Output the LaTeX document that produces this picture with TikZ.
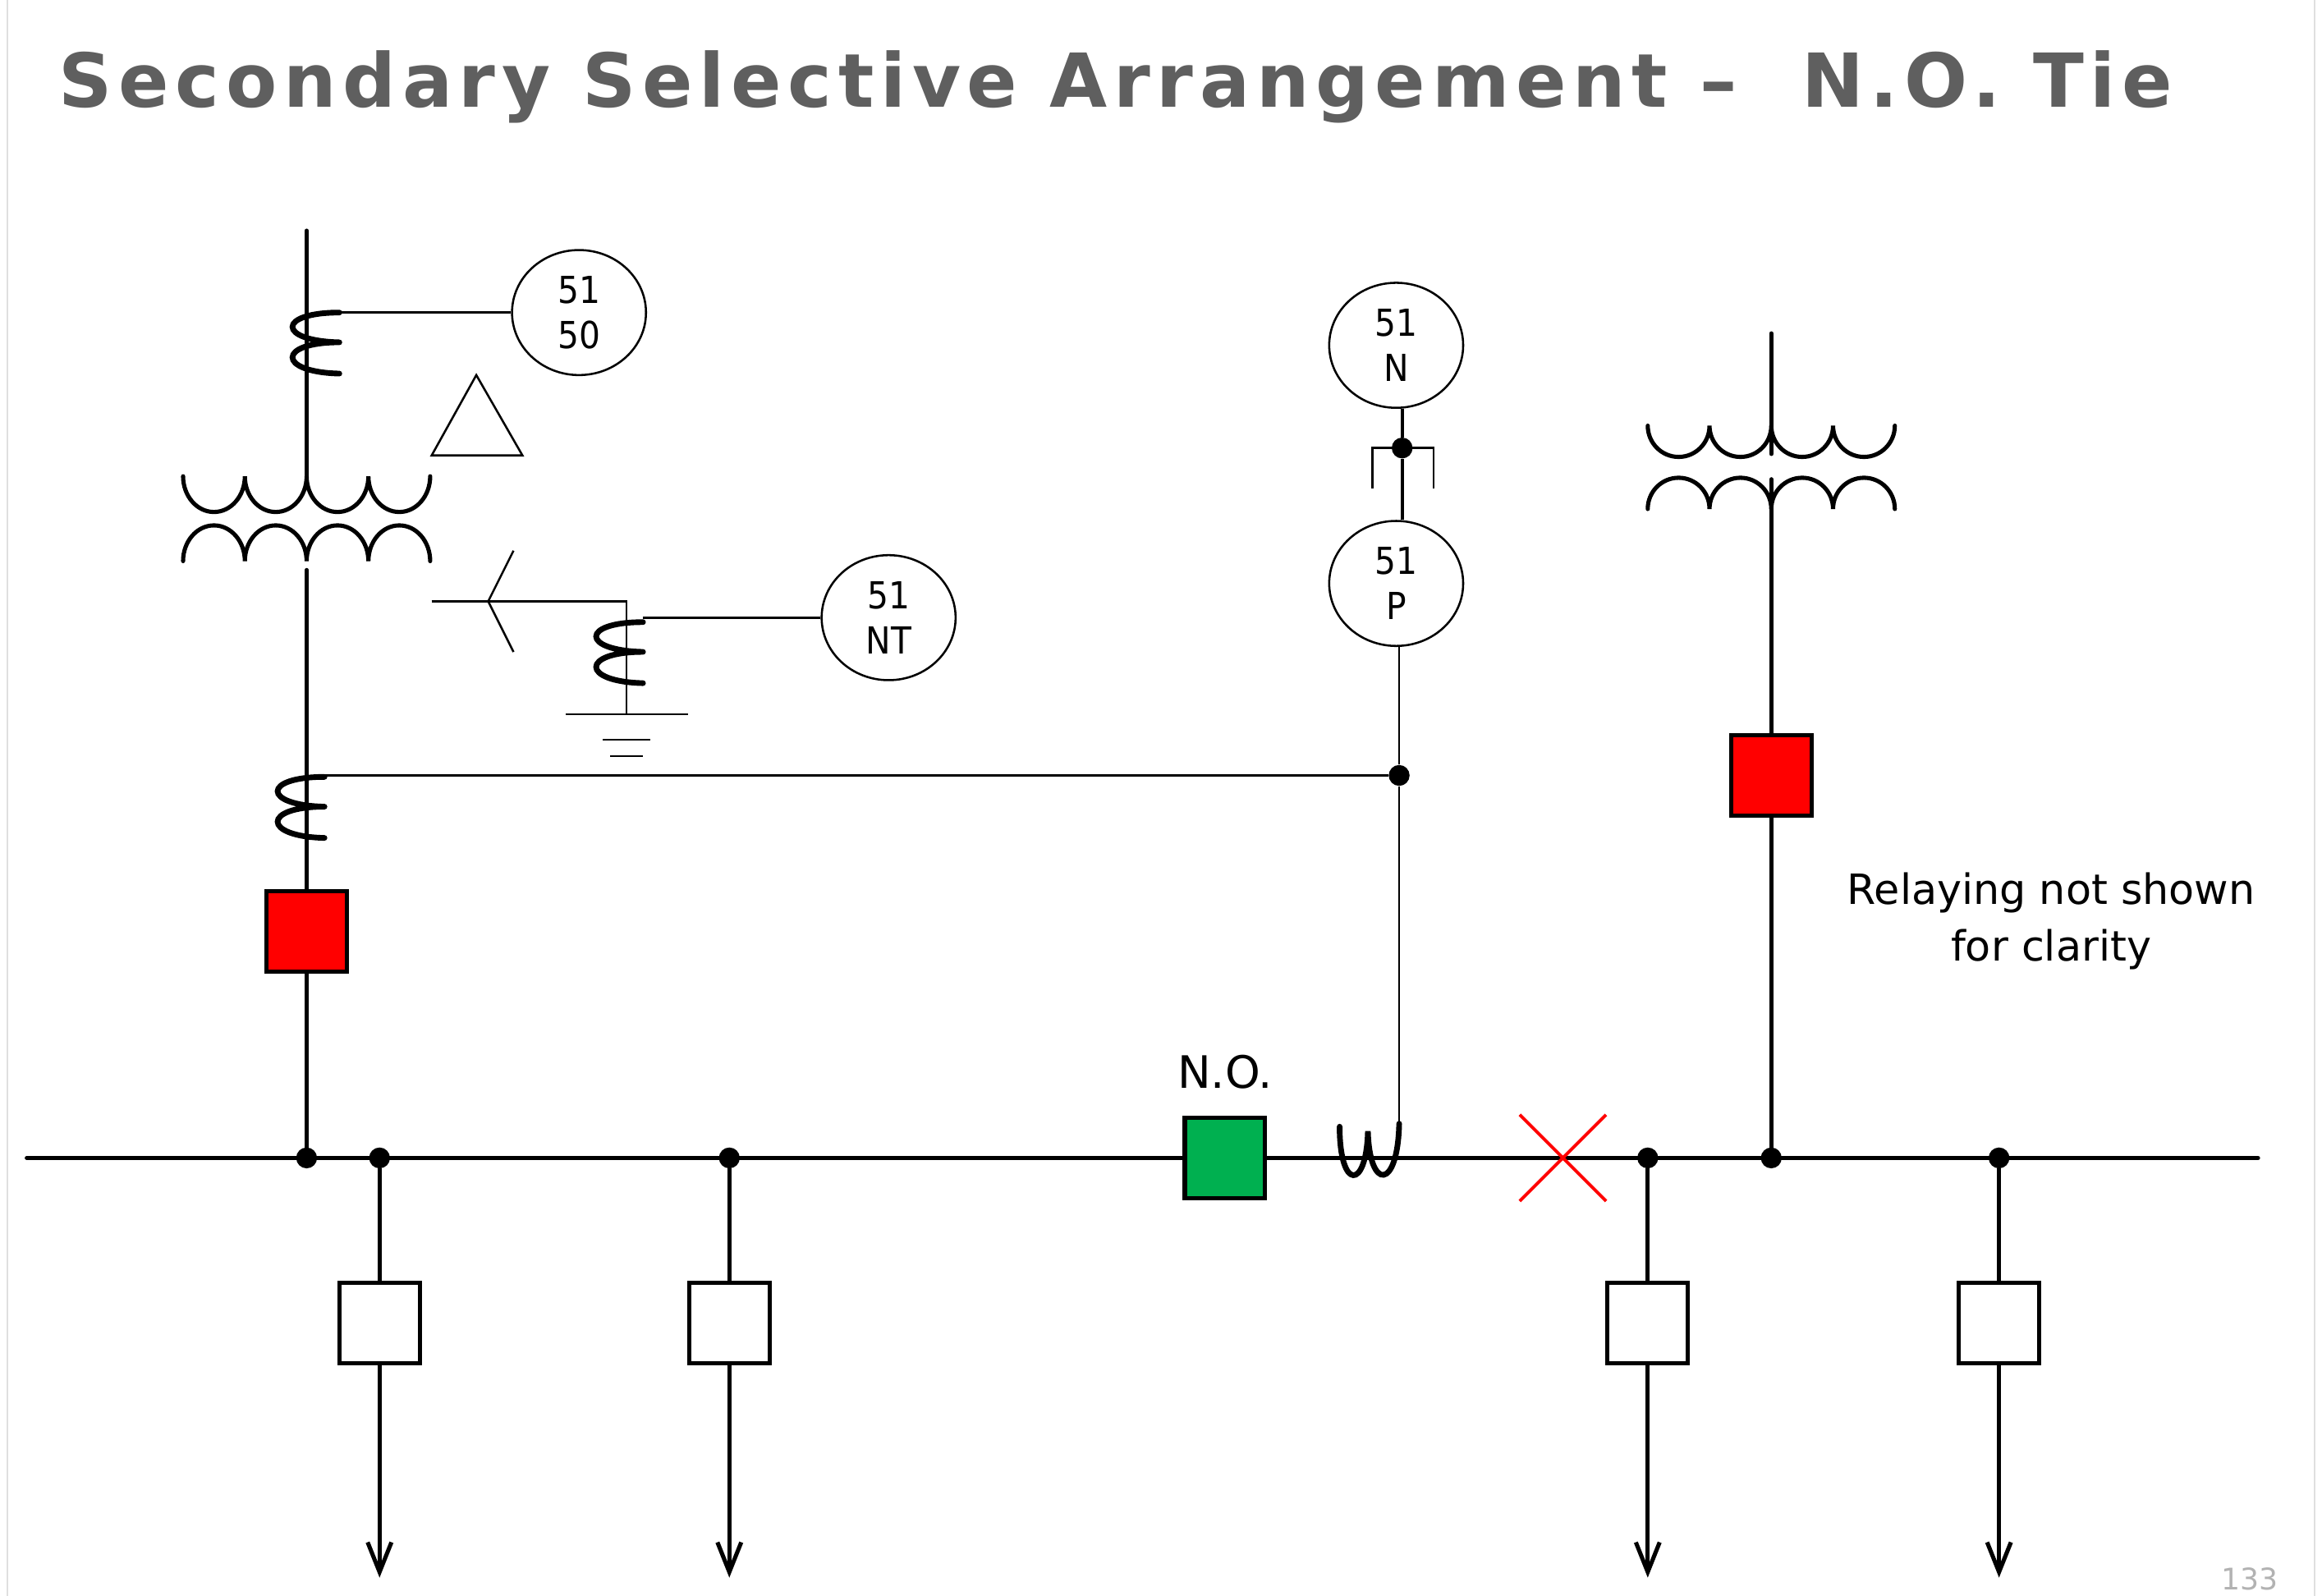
\documentclass[tikz,border=0pt]{standalone}
\usepackage{fontspec}
\setmainfont{DejaVu Sans}
\newfontfamily\cond{DejaVu Sans Condensed}
\usetikzlibrary{shapes.geometric,arrows.meta}
\definecolor{titlegray}{RGB}{95,95,95}
\definecolor{brkred}{RGB}{255,0,0}
\definecolor{brkgreen}{RGB}{0,176,80}
\begin{document}
\begin{tikzpicture}[x=1pt,y=-1pt,
  thick line/.style={line width=2.8pt,line cap=round},
  thin line/.style={line width=1.4pt},
  relay/.style={ellipse,draw,line width=1.4pt,minimum width=90pt,minimum height=84pt,inner sep=0pt,align=center,font=\cond\fontsize{25}{30}\selectfont},
  brk/.style={draw,line width=2.8pt,minimum size=54pt,inner sep=0pt},
  feeder/.style={draw,line width=2.8pt,minimum size=54pt,inner sep=0pt,fill=white},
  dot/.style={circle,fill,inner sep=0pt,minimum size=14pt},
  coil/.style={line width=3.8pt,line cap=round},
  farrow/.style={thick line,-{Straight Barb[length=20pt,width=16pt,line width=2.8pt]}}
]
\useasboundingbox (0,0) rectangle (1560,1072);
\draw[gray!25,line width=1pt] (5,-2) -- (5,1074) (1555,-2) -- (1555,1074);
\node[anchor=base west,text=titlegray,font=\bfseries\fontsize{50}{60}\selectfont\addfontfeatures{LetterSpace=8.5}] (title) at (36,72) {Secondary Selective Arrangement – \ N.O. Tie};
\node[anchor=base east,text=gray!60,font=\fontsize{20}{24}\selectfont] (pg) at (1534,1068) {133};

% bus
\coordinate (busL) at (18,778);
\coordinate (busR) at (1517,778);
\draw[thick line] (busL) -- (busR);

% left transformer feeder
\coordinate (lt) at (206,155);
\coordinate (lp) at (206,322);
\draw[thick line] (lt) -- (lp);
\draw[coil] (228,210) .. controls (186,210) and (186,229) .. (228,230) (228,230) .. controls (186,230) and (186,250) .. (228,251);
\node[relay] (r5150) at (389,210) {51\\50};
\draw[thin line] (228,210) -- (r5150.west);
\draw[thin line] (290,306) -- (320,252) -- (351,306) -- cycle;
% primary cups
\draw[thick line] (123,320) arc[start angle=180,end angle=0,x radius=20.75,y radius=24] arc[start angle=180,end angle=0,x radius=20.75,y radius=24] arc[start angle=180,end angle=0,x radius=20.75,y radius=24] arc[start angle=180,end angle=0,x radius=20.75,y radius=24];
% secondary arches
\draw[thick line] (123,377) arc[start angle=180,end angle=360,x radius=20.75,y radius=24] arc[start angle=180,end angle=360,x radius=20.75,y radius=24] arc[start angle=180,end angle=360,x radius=20.75,y radius=24] arc[start angle=180,end angle=360,x radius=20.75,y radius=24];
\node[dot] (dL) at (206,778) {};
\coordinate (ls) at (206,383);
\node[brk,fill=brkred] (bL) at (206,626) {};
\draw[thick line] (ls) -- (bL.north);
\draw[thick line] (bL.south) -- (dL);
\draw[coil] (218,522) .. controls (176,522) and (176,541) .. (218,542) (218,542) .. controls (176,542) and (176,562) .. (218,563);

% wye and neutral CT
\coordinate (wyeL) at (290,404);
\coordinate (wyeC) at (328,404);
\coordinate (nN) at (421,404);
\coordinate (nG) at (421,480);
\draw[thin line] (wyeL) -- (wyeC) -- (nN) -- (nG);
\draw[thin line] (345,370) -- (wyeC) -- (345,438);
\draw[coil] (432,418) .. controls (390,418) and (390,437) .. (432,438) (432,438) .. controls (390,438) and (390,458) .. (432,459);
\node[relay] (r51NT) at (597,415) {51\\NT};
\draw[thin line] (432,415) -- (r51NT.west);
\draw[thin line] (380,480) -- (462,480) (405,497) -- (437,497) (410,508) -- (432,508);

% 51N / 51P
\node[relay] (r51N) at (938,232) {51\\N};
\node[relay] (r51P) at (938,392) {51\\P};
\node[dot] (dN) at (942,301) {};
\draw[line width=2.2pt] (r51N.south -| dN) -- (dN) -- (r51P.north -| dN);
\draw[thin line] (922,328) -- (922,301) -- (963,301) -- (963,328);
\node[dot] (dP) at (940,521) {};
\coordinate (ctTop) at (940,755);
\draw[thin line] (r51P.south -| dP) -- (dP) -- (ctTop);
\draw[thin line] (218,521) -- (dP);
\draw[coil] (900,757) .. controls (900,800) and (918,800) .. (919,760) .. controls (920,800) and (939,800) .. (940,755);

% N.O. tie
\node[brk,fill=brkgreen] (bNO) at (823,778) {};
\node[font=\fontsize{30}{36}\selectfont] (lNO) at (823,720) {N.O.};
% red X
\draw[brkred,line width=2.2pt] (1021,749) -- (1079,807) (1021,807) -- (1079,749);

% right transformer
\coordinate (rt) at (1190,224);
\coordinate (rp) at (1190,305);
\draw[thick line] (rt) -- (rp);
\draw[thick line] (1107,286) arc[start angle=180,end angle=0,x radius=20.75,y radius=21] arc[start angle=180,end angle=0,x radius=20.75,y radius=21] arc[start angle=180,end angle=0,x radius=20.75,y radius=21] arc[start angle=180,end angle=0,x radius=20.75,y radius=21];
\draw[thick line] (1107,342) arc[start angle=180,end angle=360,x radius=20.75,y radius=21] arc[start angle=180,end angle=360,x radius=20.75,y radius=21] arc[start angle=180,end angle=360,x radius=20.75,y radius=21] arc[start angle=180,end angle=360,x radius=20.75,y radius=21];
\coordinate (rs) at (1190,322);
\node[brk,fill=brkred] (bR) at (1190,521) {};
\node[dot] (dR) at (1190,778) {};
\draw[thick line] (rs) -- (bR.north);
\draw[thick line] (bR.south) -- (dR);
\node[align=center,font=\fontsize{28}{38}\selectfont] (note) at (1378,619) {Relaying not shown\\for clarity};

% feeders
\foreach \x/\n in {255/a,490/b,1107/c,1343/d}{
  \node[dot] (d\n) at (\x,778) {};
  \node[feeder] (f\n) at (\x,889) {};
  \coordinate (e\n) at (\x,1060);
  \draw[thick line] (d\n) -- (f\n.north);
  \draw[farrow] (f\n.south) -- (e\n);
}
\end{tikzpicture}
\end{document}
